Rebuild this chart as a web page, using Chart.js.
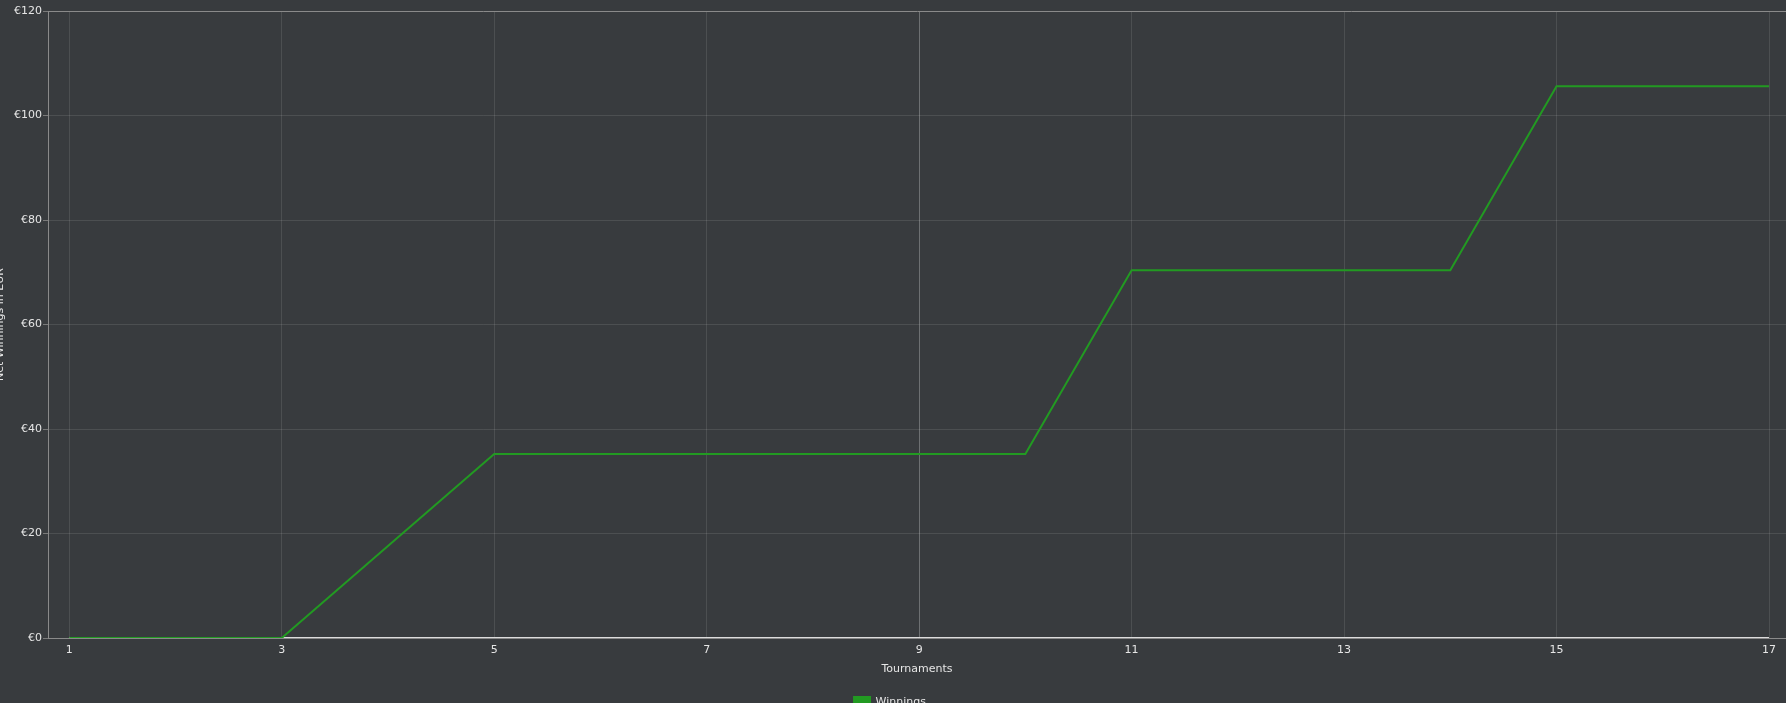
<!DOCTYPE html>
<html>
<head>
<meta charset="utf-8">
<script src="https://cdn.jsdelivr.net/npm/chart.js@4.4.1/dist/chart.umd.min.js"></script>
<style>
  html, body { margin: 0; padding: 0; background: #383b3e; overflow: hidden; }
  #wrap { position: absolute; left: 0; top: 0; width: 1786px; height: 718px; }
</style>
</head>
<body>
<div id="wrap"><canvas id="c"></canvas></div>
<script>
const tournaments = [1,2,3,4,5,6,7,8,9,10,11,12,13,14,15,16,17];
const winnings = [0,0,0,17.6,35.2,35.2,35.2,35.2,35.2,35.2,70.4,70.4,70.4,70.4,105.6,105.6,105.6];
const baseline = [0,0,0,0,0,0,0,0,0,0,0,0,0,0,0,0,0];
const xTicks = [1,3,5,7,9,11,13,15,17];
const yTicks = [0,20,40,60,80,100,120];

Chart.defaults.font.family = "'DejaVu Sans', sans-serif";
Chart.defaults.font.size = 11;
Chart.defaults.color = '#e6e6e6';

new Chart(document.getElementById('c'), {
  type: 'line',
  data: {
    datasets: [
      {
        label: 'Winnings',
        data: tournaments.map((t, i) => ({ x: t, y: winnings[i] })),
        borderColor: '#229a22',
        backgroundColor: '#229a22',
        borderWidth: 2,
        pointRadius: 0,
        tension: 0,
        fill: false
      },
      {
        label: 'Baseline',
        data: tournaments.map((t, i) => ({ x: t, y: baseline[i] })),
        borderColor: '#dcdcdc',
        backgroundColor: '#dcdcdc',
        borderWidth: 2,
        pointRadius: 0,
        tension: 0,
        fill: false
      }
    ]
  },
  options: {
    responsive: true,
    maintainAspectRatio: false,
    animation: false,
    layout: { padding: { left: -6, top: 11, right: 0, bottom: 0 } },
    plugins: {
      legend: {
        position: 'bottom',
        labels: {
          boxWidth: 16,
          color: '#e6e6e6',
          font: { size: 11 },
          filter: (item) => item.text === 'Winnings'
        }
      },
      tooltip: { enabled: false }
    },
    scales: {
      x: {
        type: 'linear',
        min: 0.8,
        max: 17.16,
        afterBuildTicks: (scale) => { scale.ticks = xTicks.map(v => ({ value: v })); },
        afterFit: (scale) => { scale.height = 49; },
        ticks: { padding: 6, color: '#e6e6e6', font: { size: 11 } },
        grid: {
          drawTicks: false,
          color: (ctx) => (ctx.tick && ctx.tick.value === 9) ? 'rgba(255,255,255,0.27)' : 'rgba(255,255,255,0.1)'
        },
        border: { display: true, color: '#8a8a8a', width: 1 },
        title: {
          display: true,
          text: 'Tournaments',
          color: '#e6e6e6',
          font: { size: 11 },
          padding: { top: 6, bottom: 11 }
        }
      },
      y: {
        min: 0,
        max: 120,
        afterBuildTicks: (scale) => { scale.ticks = yTicks.map(v => ({ value: v })); },
        afterFit: (scale) => { scale.width = 54; },
        ticks: {
          padding: 1,
          color: '#e6e6e6',
          font: { size: 11 },
          callback: (v) => '€' + v
        },
        grid: {
          tickLength: 5,
          color: (ctx) => (ctx.tick && (ctx.tick.value === 0 || ctx.tick.value === 120)) ? '#8a8a8a' : 'rgba(255,255,255,0.1)',
          tickColor: '#7a7a7a'
        },
        border: { display: true, color: '#8a8a8a', width: 1 },
        title: {
          display: true,
          text: 'Net Winnings in EUR',
          color: '#e6e6e6',
          font: { size: 11 },
          padding: { top: 0, bottom: 4 }
        }
      }
    }
  }
});
</script>
</body>
</html>
